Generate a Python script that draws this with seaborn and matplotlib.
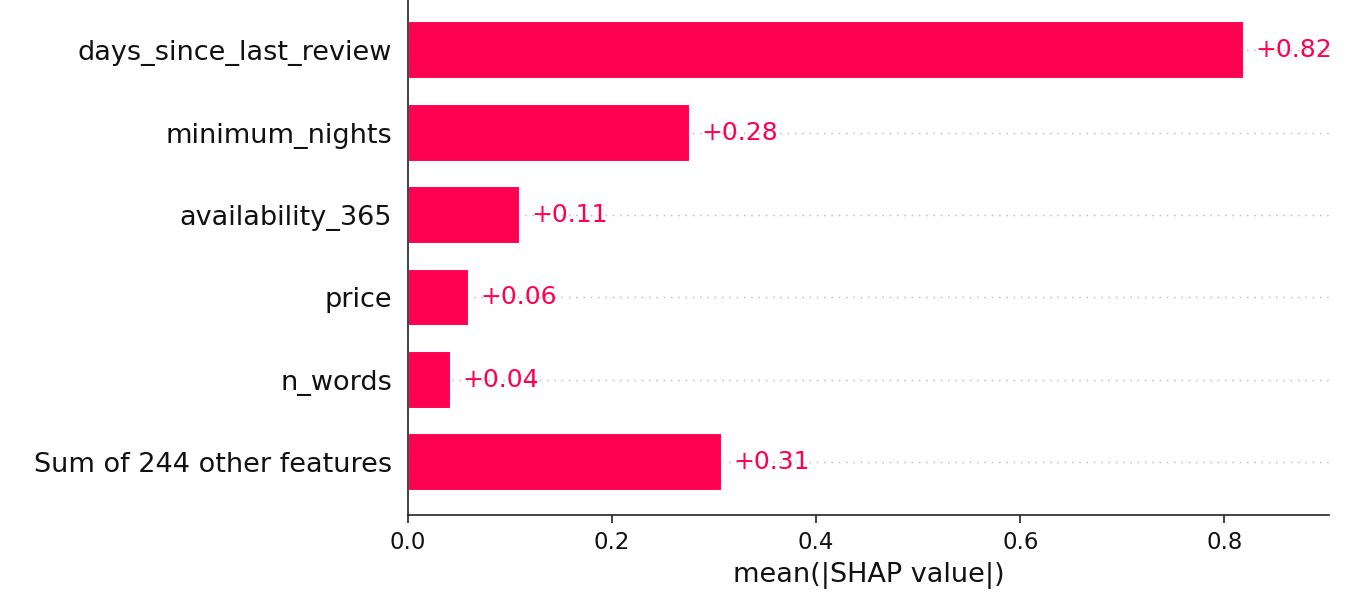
import numpy as np
import pandas as pd
import matplotlib
matplotlib.use("Agg")
import matplotlib.pyplot as plt
import seaborn as sns

# feature importances
features = ["days_since_last_review", "minimum_nights", "availability_365",
            "price", "n_words", "Sum of 244 other features"]
mean_abs_shap = [0.819, 0.276, 0.110, 0.060, 0.042, 0.308]
value_labels = ["+0.82", "+0.28", "+0.11", "+0.06", "+0.04", "+0.31"]

shap_red = "#ff0051"

sns.set_style("white")
plt.rcParams["font.family"] = ["DejaVu Sans"]
plt.rcParams["text.color"] = "#111111"
plt.rcParams["xtick.color"] = "#111111"
plt.rcParams["ytick.color"] = "#111111"
plt.rcParams["axes.labelcolor"] = "#111111"

df = pd.DataFrame({"feature": features, "value": mean_abs_shap})

fig = plt.figure(figsize=(1358 / 150, 601 / 150), dpi=150)
ax = fig.add_axes([0.3004, 0.1431, 0.979 - 0.3004, 1 - 0.1431])

# dotted guide lines behind the bars
for i in range(len(features)):
    ax.axhline(i, color="#bbbbbb", lw=0.7, dashes=(1, 4), zorder=-1)

sns.barplot(data=df, x="value", y="feature", orient="h", color=shap_red,
            width=0.7, saturation=1, ax=ax, zorder=2)

ax.set_xlim(0, 0.903)
ax.set_ylim(len(features) - 1 + 0.64, -0.61)

xmin, xmax = ax.get_xlim()
for i, (v, lab) in enumerate(zip(mean_abs_shap, value_labels)):
    ax.text(v + (xmax - xmin) / 80, i, lab, ha="left", va="center",
            color=shap_red, fontsize=12)

ax.set_xticks([0.0, 0.2, 0.4, 0.6, 0.8])
ax.tick_params(axis="x", labelsize=11, length=4, width=0.8, direction="out",
               bottom=True, color="#222222")
ax.tick_params(axis="y", labelsize=13, length=0, pad=7.5)
ax.set_xlabel("mean(|SHAP value|)", fontsize=13)
ax.set_ylabel("")

for side in ["top", "right"]:
    ax.spines[side].set_visible(False)
for side in ["left", "bottom"]:
    ax.spines[side].set_color("#222222")
    ax.spines[side].set_linewidth(0.8)

fig.savefig("out.png", dpi=150)
